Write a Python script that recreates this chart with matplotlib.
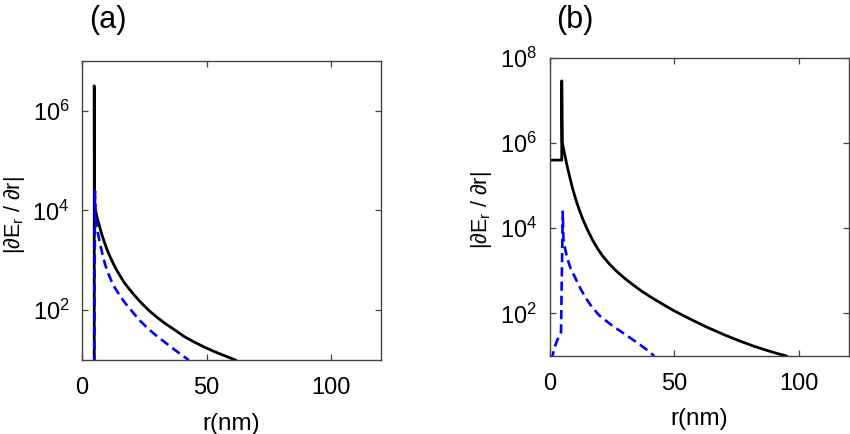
import numpy as np
import matplotlib
matplotlib.use('Agg')
import matplotlib.pyplot as plt

plt.rcParams['font.family'] = ['Liberation Sans', 'DejaVu Sans']
plt.rcParams['mathtext.fontset'] = 'custom'
plt.rcParams['mathtext.rm'] = 'Liberation Sans'
plt.rcParams['mathtext.it'] = 'Liberation Sans'
plt.rcParams['mathtext.default'] = 'regular'

# panel (a): points (r in nm, log10 of |dEr/dr|)
r_a_black = [4.9, 4.9, 5.0, 5.5, 6.0, 6.7, 7.3, 8.0, 9.0, 10.0, 11.0, 12.2, 13.4, 15.0, 17.0,
             19.0, 21.0, 23.5, 26.7, 30.0, 33.4, 37.0, 41.0, 45.0, 49.0, 53.0, 57.0, 61.5]
lg_a_black = [-1.0, 6.5, 4.10, 3.98, 3.87, 3.74, 3.63, 3.51, 3.36, 3.22, 3.10, 2.97, 2.85, 2.71, 2.55,
              2.42, 2.30, 2.16, 2.00, 1.86, 1.73, 1.61, 1.47, 1.36, 1.26, 1.17, 1.09, 1.0]
r_a_blue = [4.8, 5.2, 5.4, 6.0, 6.6, 7.3, 8.2, 9.3, 10.5, 12.0, 13.4, 15.5, 17.5, 20.0,
            23.0, 26.7, 30.0, 33.4, 37.0, 40.0, 42.8]
lg_a_blue = [-1.0, 4.39, 3.85, 3.65, 3.49, 3.32, 3.12, 2.91, 2.74, 2.56, 2.43, 2.27, 2.13, 1.98,
             1.80, 1.62, 1.48, 1.35, 1.21, 1.10, 1.0]

# panel (b)
r_b_black = [0.0, 4.9, 4.9, 5.1, 5.6, 6.2, 6.7, 7.3, 8.0, 9.0, 10.0, 11.0, 12.2, 13.3, 15.0, 17.3,
             19.5, 21.3, 24.0, 26.7, 30.0, 33.3, 37.0, 41.0, 45.0, 49.7, 56.0, 63.0, 70.0, 76.4,
             82.0, 87.0, 91.0, 95.0]
lg_b_black = [5.6, 5.6, 7.46, 6.02, 5.87, 5.70, 5.56, 5.40, 5.23, 4.99, 4.78, 4.59, 4.39, 4.22, 3.99, 3.72,
              3.50, 3.35, 3.16, 3.00, 2.83, 2.68, 2.52, 2.37, 2.23, 2.07, 1.88, 1.68, 1.50, 1.35,
              1.23, 1.135, 1.065, 1.0]
r_b_blue = [0.8, 2.0, 3.3, 4.6, 5.3, 5.6, 6.3, 7.3, 8.5, 10.7, 12.5, 14.7, 17.0, 20.0, 25.0,
            30.0, 35.0, 38.5, 42.0]
lg_b_blue = [0.9, 1.2, 1.4, 1.55, 4.39, 3.73, 3.50, 3.26, 3.05, 2.79, 2.57, 2.35, 2.15, 1.95, 1.72,
             1.52, 1.32, 1.17, 1.0]

panels = [
    ('(a)', r_a_black, lg_a_black, r_a_blue, lg_a_blue, [1e2, 1e4, 1e6], (10, 1e7),
     [0.0965, 0.1705, 0.352, 0.689], (-0.184, 0.483), -0.177),
    ('(b)', r_b_black, lg_b_black, r_b_blue, lg_b_blue, [1e2, 1e4, 1e6, 1e8], (10, 1e8),
     [0.6465, 0.1797, 0.352, 0.687], (-0.184, 0.49), -0.174),
]

fig = plt.figure(figsize=(8.5, 4.34), dpi=100)

for tag, rk, lk, rb, lb, yt, ylim, pos, ylab_xy, xlab_y in panels:
    ax = fig.add_axes(pos)
    ax.plot(rk, 10.0 ** np.array(lk), color='black', lw=2.0)
    ax.plot(rb, 10.0 ** np.array(lb), color=(0, 0, 1), lw=1.9, ls='--', dashes=(3.5, 1.9))
    ax.set_yscale('log')
    ax.set_xlim(0, 120)
    ax.set_ylim(*ylim)
    ax.set_xticks([0, 50, 100])
    ax.set_yticks(yt)
    ax.minorticks_off()
    ax.tick_params(direction='in', top=True, right=True, length=4, width=0.9,
                   color='#444444', labelsize=17)
    ax.tick_params(axis='x', pad=12)
    ax.tick_params(axis='y', pad=9)
    for s in ax.spines.values():
        s.set_color('#444444')
        s.set_linewidth(1.0)
    ax.set_xlabel('r(nm)', fontsize=17.5)
    ax.set_ylabel('|∂E$_\\mathregular{r}$ / ∂r|', fontsize=15.5)
    ax.yaxis.set_label_coords(*ylab_xy)
    ax.xaxis.set_label_coords(0.5, xlab_y)
    fig.text(pos[0] + 0.03, 0.955, tag, fontsize=22, ha='center', va='center')

fig.savefig('out.png', dpi=100)
